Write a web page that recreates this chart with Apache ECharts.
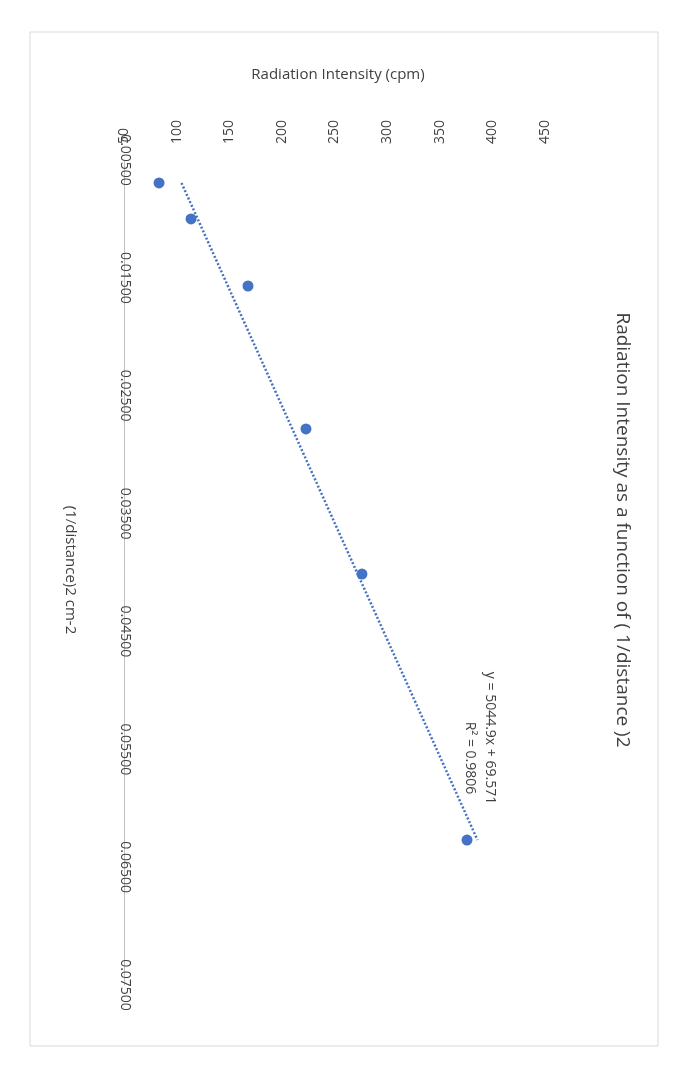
<!DOCTYPE html>
<html>
<head>
<meta charset="utf-8">
<script src="https://cdn.jsdelivr.net/npm/echarts@6/dist/echarts.min.js"></script>
<style>
html, body { margin: 0; padding: 0; background: #fff; }
#chart { width: 674px; height: 1091px; }
</style>
</head>
<body>
<div id="chart"></div>
<script>
// measured points: x = (1/distance)^2, y = intensity (cpm)
const invDistSq = [0.00695, 0.0100, 0.01569, 0.02782, 0.04013, 0.06270];
const intensity = [83.3, 113.7, 167.8, 222.9, 276.1, 375.9];
const slope = 5044.9;
const intercept = 69.571;
const trendX = [0.00695, 0.0627];

const font = '"Open Sans", sans-serif';
const chart = echarts.init(document.getElementById('chart'));

let option = {
    animation: false,
    backgroundColor: '#fff',
    grid: { left: 124, top: 160, width: 421, height: 825 },
    // horizontal axis = intensity (chart is rotated)
    xAxis: {
        type: 'value',
        position: 'top',
        min: 50,
        max: 450,
        interval: 50,
        axisLine: { show: false },
        axisTick: { show: false },
        splitLine: { show: false },
        axisLabel: { rotate: -90, color: '#404040', fontSize: 14, fontFamily: font, margin: 16 },
    },
    // vertical axis = (1/distance)^2
    yAxis: {
        type: 'value',
        inverse: true,
        min: 0.005,
        max: 0.075,
        interval: 0.01,
        axisLine: { show: true, lineStyle: { color: '#bfbfbf' } },
        axisTick: { show: false },
        splitLine: { show: false },
        axisLabel: {
            rotate: -90,
            align: 'center',
            verticalAlign: 'bottom',
            color: '#404040',
            fontSize: 14,
            fontFamily: font,
            margin: 6,
            formatter: (v) => v.toFixed(5),
        },
    },
    series: [
        {
            type: 'line',
            data: trendX.map((x) => [slope * x + intercept, x]),
            symbol: 'none',
            lineStyle: { color: '#4472c4', width: 2.5, type: [2, 2] },
            z: 1,
        },
        {
            type: 'scatter',
            data: invDistSq.map((x, i) => [intensity[i], x]),
            symbolSize: 11,
            itemStyle: { color: '#4472c4', opacity: 1 },
            z: 2,
        },
    ],
    graphic: [
        {
            type: 'rect',
            shape: { x: 30, y: 32, width: 628, height: 1014 },
            style: { fill: 'none', stroke: '#d9d9d9', lineWidth: 1 },
            z: -1,
        },
        {
            type: 'text',
            x: 338, y: 75,
            style: { text: 'Radiation Intensity (cpm)', fill: '#404040', font: '15px ' + font, align: 'center', verticalAlign: 'middle' },
        },
        {
            type: 'text',
            x: 70, y: 570, rotation: -Math.PI / 2,
            style: { text: '(1/distance)2 cm-2', fill: '#404040', font: '15px ' + font, align: 'center', verticalAlign: 'middle' },
        },
        {
            type: 'text',
            x: 622, y: 530, rotation: -Math.PI / 2,
            style: { text: 'Radiation Intensity as a function of ( 1/distance )2', fill: '#404040', font: '19px ' + font, align: 'center', verticalAlign: 'middle' },
        },
        {
            type: 'text',
            x: 490, y: 738, rotation: -Math.PI / 2,
            style: { text: 'y = 5044.9x + 69.571', fill: '#404040', font: '14px ' + font, align: 'center', verticalAlign: 'middle' },
        },
        {
            type: 'text',
            x: 470, y: 758, rotation: -Math.PI / 2,
            style: { text: 'R² = 0.9806', fill: '#404040', font: '14px ' + font, align: 'center', verticalAlign: 'middle' },
        },
    ],
};
chart.setOption(option);
</script>
</body>
</html>
